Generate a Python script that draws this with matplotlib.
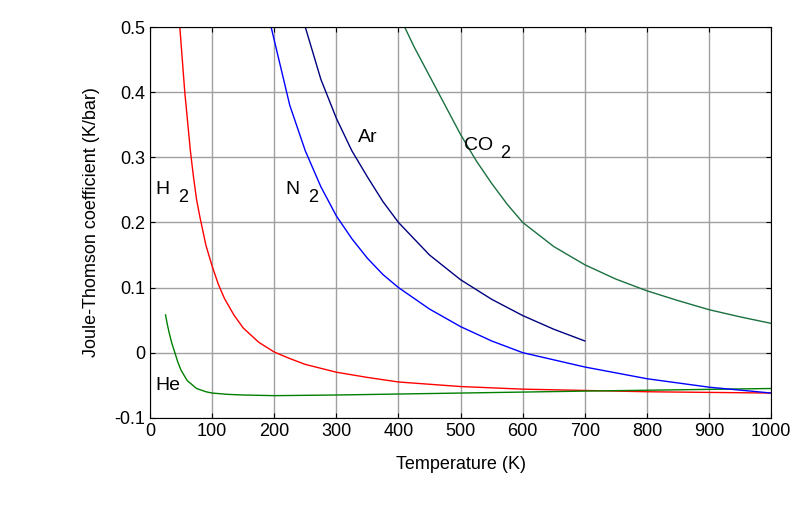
import matplotlib
matplotlib.use("Agg")
import matplotlib.pyplot as plt
plt.rcParams["font.family"] = "Liberation Sans"

h2_T = [48, 52, 56, 60, 65, 70, 75, 80, 90, 100, 110, 120, 135, 150, 175, 200, 225, 250, 300, 350, 400, 500, 600, 700, 800, 900, 1000]
h2_mu = [0.5, 0.45, 0.40, 0.36, 0.31, 0.27, 0.235, 0.21, 0.165, 0.133, 0.105, 0.083, 0.058, 0.038, 0.016, 0.001, -0.009, -0.018, -0.03, -0.038, -0.045, -0.052, -0.056, -0.058, -0.06, -0.061, -0.062]
he_T = [25, 28, 31, 35, 40, 45, 50, 60, 75, 90, 100, 125, 150, 200, 300, 500, 700, 1000]
he_mu = [0.058, 0.043, 0.03, 0.015, 0.0, -0.015, -0.027, -0.043, -0.055, -0.06, -0.062, -0.064, -0.065, -0.066, -0.065, -0.062, -0.059, -0.055]
n2_T = [195, 210, 225, 250, 275, 300, 325, 350, 375, 400, 450, 500, 550, 600, 700, 800, 900, 1000]
n2_mu = [0.5, 0.44, 0.38, 0.31, 0.255, 0.21, 0.175, 0.145, 0.12, 0.10, 0.067, 0.04, 0.018, 0.0, -0.022, -0.04, -0.053, -0.062]
ar_T = [250, 275, 300, 325, 350, 375, 400, 450, 500, 550, 600, 650, 700]
ar_mu = [0.5, 0.42, 0.36, 0.31, 0.27, 0.232, 0.2, 0.15, 0.112, 0.082, 0.057, 0.036, 0.018]
co2_T = [410, 425, 450, 475, 500, 525, 550, 575, 600, 650, 700, 750, 800, 850, 900, 950, 1000]
co2_mu = [0.5, 0.47, 0.425, 0.38, 0.335, 0.295, 0.26, 0.228, 0.2, 0.163, 0.135, 0.113, 0.095, 0.08, 0.066, 0.055, 0.045]

fig = plt.figure(figsize=(8, 5.12), dpi=100)
ax = fig.add_axes([0.1875, 0.184, 0.7765, 0.763])
ax.plot(h2_T, h2_mu, color="#ff0000", lw=1)
ax.plot(he_T, he_mu, color="#008000", lw=1)
ax.plot(n2_T, n2_mu, color="#0000ff", lw=1)
ax.plot(ar_T, ar_mu, color="#000080", lw=1)
ax.plot(co2_T, co2_mu, color="#1a7040", lw=1)
ax.set_xlim(0, 1000)
ax.set_ylim(-0.1, 0.5)
ax.set_xticks(range(0, 1001, 100))
ax.set_yticks([-0.1, 0, 0.1, 0.2, 0.3, 0.4, 0.5])
ax.set_yticklabels(["-0.1", "0", "0.1", "0.2", "0.3", "0.4", "0.5"])
ax.grid(True, color="#a0a0a0", lw=1)
ax.tick_params(labelsize=13, direction="in", top=True, right=True)
ax.set_xlabel("Temperature (K)", fontsize=13, labelpad=12)
ax.set_ylabel("Joule-Thomson coefficient (K/bar)", fontsize=13, labelpad=10)

def lab(x, y, t):
    ax.text(x, y, t, fontsize=14, ha="left", va="center")
    ax.text(x + 37, y - 0.012, "2", fontsize=13, ha="left", va="center")
lab(8, 0.25, "H")
ax.text(8, -0.05, "He", fontsize=14, va="center")
lab(218, 0.25, "N")
ax.text(335, 0.33, "Ar", fontsize=14, va="center")
ax.text(505, 0.318, "CO", fontsize=14, va="center")
ax.text(563, 0.306, "2", fontsize=13, va="center")
fig.savefig("out.png", dpi=100)
